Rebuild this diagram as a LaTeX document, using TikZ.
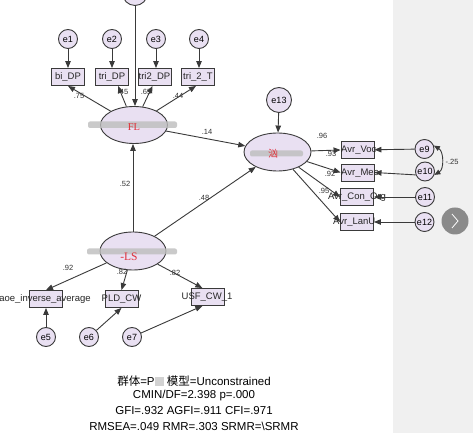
\documentclass[tikz,border=0pt]{standalone}
\usepackage{fontspec}
\setmainfont{Liberation Sans}
\newfontfamily\cjk{Noto Sans CJK SC}
\newfontfamily\serf{Liberation Serif}
\usetikzlibrary{shapes.geometric,arrows.meta}
\definecolor{lav}{HTML}{E9E0F2}
\definecolor{ln}{HTML}{3A3A3A}
\definecolor{panel}{HTML}{F0F0F0}
\definecolor{band}{HTML}{BDBDBD}
\definecolor{redt}{HTML}{E0303A}
\begin{document}
\begin{tikzpicture}[x=1pt,y=-1pt,
  obs/.style={draw=ln, line width=0.9pt, fill=lav, minimum width=33pt, minimum height=17pt, inner sep=0pt},
  btxt/.style={inner sep=0pt, font=\fontsize{9.5}{10}\selectfont, text=black!85},
  err/.style={circle, draw=ln, line width=0.9pt, fill=lav, minimum size=19pt, inner sep=0pt, font=\fontsize{9}{10}\selectfont},
  lat/.style={ellipse, draw=ln, line width=0.9pt, fill=lav, minimum width=67pt, minimum height=37pt, inner sep=0pt},
  arr/.style={draw=ln, line width=0.9pt, -{Triangle[length=7pt,width=5.5pt]}},
  biarr/.style={draw=ln, line width=0.9pt, {Triangle[length=6pt,width=5pt]}-{Triangle[length=6pt,width=5pt]}},
  lbl/.style={font=\fontsize{7.5}{8}\selectfont, inner sep=0pt, text=black!80},
  redband/.style={fill=band, opacity=0.8, rounded corners=2pt},
  fit/.style={font=\fontsize{11.5}{13}\selectfont, inner sep=0pt}
]
\useasboundingbox (0,0) rectangle (474,435);
\fill[white] (0,0) rectangle (474,435);
\fill[panel] (393,0) rectangle (473,433);

% top partial latent
\node[err, minimum size=25pt] (top) at (135,-7) {};

% FL latent
\node[lat] (fl) at (134,125) {};
\fill[redband] (88,121.5) rectangle (177,128);
\node[inner sep=0pt, text=redt, font=\serf\fontsize{10.5}{11}\selectfont] at (134,127) {FL};

% indicators of FL
\node[obs] (bi) at (68,77) {};
\node[btxt] at (bi) {bi\_DP};
\node[obs] (tri) at (112,77) {};
\node[btxt] at (tri) {tri\_DP};
\node[obs] (trib) at (154.5,77) {};
\node[btxt] at (trib) {tri2\_DP};
\node[obs] (trit) at (198,77) {};
\node[btxt] at (trit) {tri\_2\_T};

\node[err] (e1) at (68,39) {e1};
\node[err] (e2) at (112,39) {e2};
\node[err] (e3) at (156,39) {e3};
\node[err] (e4) at (199,39) {e4};

\draw[arr] (e1) -- (bi);
\draw[arr] (e2) -- (tri);
\draw[arr] (e3) -- (trib.north -| e3);
\draw[arr] (e4) -- (trit.north -| e4);

\draw[arr] (fl) -- (bi.south);
\draw[arr] (fl) -- ([xshift=6pt]tri.south);
\draw[arr] (fl) -- ([xshift=-2pt]trib.south);
\draw[arr] (fl) -- ([xshift=-2pt]trit.south);
\node[lbl] at (79,96) {.75};
\node[lbl] at (123,92) {.45};
\node[lbl] at (146,92) {.65};
\node[lbl] at (178,96) {.44};

\draw[arr] (top) -- (top |- fl.north);

% Q latent
\node[lat, minimum width=67pt, minimum height=38pt] (q) at (277.5,152) {};
\fill[redband] (250,150.5) rectangle (303,156.5);
\node[inner sep=0pt, text=redt, font=\cjk\fontsize{10}{11}\selectfont] at (273,154) {汹};
\node[err, minimum size=25pt] (e13) at (279,100) {e13};
\draw[arr] (e13) -- (q);
\draw[arr] (fl) -- (q);
\node[lbl] at (207,132) {.14};

% indicators of Q
\node[obs] (voc) at (357.5,150) {};
\node[btxt, anchor=west] at (341,150.5) {Avr\_Voc};
\node[obs] (mec) at (357.5,172.5) {};
\node[btxt, anchor=west] at (341,173) {Avr\_Mec};
\node[obs] (con) at (357,197) {};
\node[btxt] at (357,197.5) {Avr\_Con\_Org};
\node[obs] (lan) at (357,222) {};
\node[btxt, anchor=west] at (333,222.5) {Avr\_LanU};

\draw[arr] (q) -- (voc.west);
\draw[arr] (q) -- (mec.west);
\draw[arr] (q) -- (con.west);
\draw[arr] (q) -- (lan.west);
\node[lbl] at (322,136) {.96};
\node[lbl] at (331,154) {.93};
\node[lbl] at (330,174) {.92};
\node[lbl] at (324,191) {.95};

\node[err] (e9) at (424.5,149) {e9};
\node[err] (e10) at (425,171.5) {e10};
\node[err] (e11) at (425,197) {e11};
\node[err] (e12) at (424.5,222) {e12};
\draw[arr] (e9) -- (voc);
\draw[arr] (e10.200) -- (mec.east);
\draw[arr] (e11) -- (con);
\draw[arr] (e12) -- (lan);
\draw[biarr] (e9.20) to[out=-30, in=30] (e10.-20);
\node[lbl] at (452,162) {-.25};

% nav button
\fill[gray!85!black!80] (455,221) circle (13.5pt);
\draw[white, line width=0.8pt] (452,214) -- (458,221) -- (452,228);

% LS latent
\node[lat, minimum width=66pt, minimum height=38pt] (ls) at (133,251) {};
\fill[redband] (87,248.5) rectangle (177,254.5);
\node[inner sep=0pt, text=redt, font=\serf\fontsize{11.5}{12}\selectfont] at (129,257) {-LS};
\draw[arr] (ls) -- (ls.north |- fl.south);
\node[lbl] at (125,184) {.52};
\draw[arr] (ls) -- (q);
\node[lbl] at (204,198) {.48};

\node[obs] (aoe) at (46,299) {};
\node[btxt] at (45,299) {aoe\_inverse\_average};
\node[obs] (pld) at (121.5,299) {};
\node[btxt] at (pld) {PLD\_CW};
\node[obs] (usf) at (207.5,297) {};
\node[btxt] at (207,297) {USF\_CW\_1};

\draw[arr] (ls) -- (aoe.north);
\draw[arr] (ls) -- (pld.north);
\draw[arr] (ls) -- (usf.120);
\node[lbl] at (68,268) {.92};
\node[lbl] at (122,272) {.82};
\node[lbl] at (175,273) {.82};

\node[err] (e5) at (46,337) {e5};
\node[err] (e6) at (89,337) {e6};
\node[err] (e7) at (132,337) {e7};
\draw[arr] (e5) -- (aoe.south);
\draw[arr] (e6) -- (pld.south);
\draw[arr] (e7) -- (usf.240);

% fit text
\node[fit] (f1) at (194,381) {{\cjk 群体}=P\textcolor{gray!35}{\rule[-1pt]{9pt}{9pt}} {\cjk 模型}=Unconstrained};
\node[fit] (f2) at (194,396) {CMIN/DF=2.398 p=.000};
\node[fit] (f3) at (194,411) {GFI=.932 AGFI=.911 CFI=.971};
\node[fit] (f4) at (194,426) {RMSEA=.049 RMR=.303 SRMR=\textbackslash SRMR};
\end{tikzpicture}
\end{document}
